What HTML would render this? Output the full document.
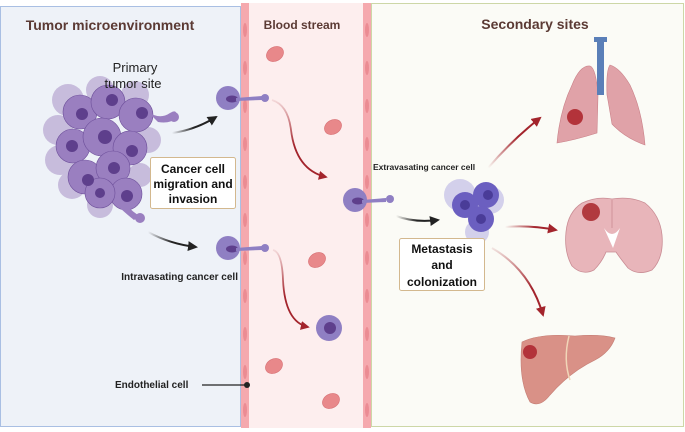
<!DOCTYPE html>
<html><head><meta charset="utf-8"><style>
html,body{margin:0;padding:0;background:#fff;}
svg{display:block;font-family:"Liberation Sans",sans-serif;}
</style></head><body>
<svg width="685" height="432" viewBox="0 0 685 432" xmlns="http://www.w3.org/2000/svg">
<defs>
<marker id="ab" viewBox="0 0 10 10" refX="8" refY="5" markerWidth="5" markerHeight="5" orient="auto"><path d="M0,0L10,5L0,10z" fill="#222"/></marker>
<marker id="ar" viewBox="0 0 10 10" refX="8" refY="5" markerWidth="5" markerHeight="5" orient="auto"><path d="M0,0L10,5L0,10z" fill="#a3242c"/></marker>
<linearGradient id="gb" x1="0" y1="0" x2="1" y2="0"><stop offset="0" stop-color="#222" stop-opacity="0"/><stop offset="0.5" stop-color="#222"/></linearGradient>
<linearGradient id="gr" x1="0" y1="0" x2="0" y2="1"><stop offset="0" stop-color="#a3242c" stop-opacity="0.1"/><stop offset="0.6" stop-color="#a3242c"/></linearGradient>
<linearGradient id="gr2" x1="0" y1="1" x2="1" y2="0"><stop offset="0" stop-color="#a3242c" stop-opacity="0"/><stop offset="0.6" stop-color="#a3242c"/></linearGradient>
<linearGradient id="gr3" x1="0" y1="0" x2="1" y2="0"><stop offset="0" stop-color="#a3242c" stop-opacity="0"/><stop offset="0.6" stop-color="#a3242c"/></linearGradient>
</defs>
<rect x="0.5" y="6.5" width="240" height="420" fill="#eef2f8" stroke="#a9bfe3"/>
<rect x="241" y="3" width="130" height="425" fill="#fdeeee"/>
<rect x="371.5" y="3.5" width="312" height="423" fill="#fbfbf6" stroke="#cdd7a7"/>
<rect x="241" y="3" width="8" height="425" fill="#f5a9ae"/>
<rect x="363" y="3" width="8" height="425" fill="#f5a9ae"/>
<g fill="#e9858d" opacity="0.8">
<ellipse cx="245" cy="30" rx="2" ry="7"/><ellipse cx="245" cy="68" rx="2" ry="7"/><ellipse cx="245" cy="106" rx="2" ry="7"/><ellipse cx="245" cy="144" rx="2" ry="7"/><ellipse cx="245" cy="182" rx="2" ry="7"/><ellipse cx="245" cy="220" rx="2" ry="7"/><ellipse cx="245" cy="258" rx="2" ry="7"/><ellipse cx="245" cy="296" rx="2" ry="7"/><ellipse cx="245" cy="334" rx="2" ry="7"/><ellipse cx="245" cy="372" rx="2" ry="7"/><ellipse cx="245" cy="410" rx="2" ry="7"/>
<ellipse cx="367" cy="30" rx="2" ry="7"/><ellipse cx="367" cy="68" rx="2" ry="7"/><ellipse cx="367" cy="106" rx="2" ry="7"/><ellipse cx="367" cy="144" rx="2" ry="7"/><ellipse cx="367" cy="182" rx="2" ry="7"/><ellipse cx="367" cy="220" rx="2" ry="7"/><ellipse cx="367" cy="258" rx="2" ry="7"/><ellipse cx="367" cy="296" rx="2" ry="7"/><ellipse cx="367" cy="334" rx="2" ry="7"/><ellipse cx="367" cy="372" rx="2" ry="7"/><ellipse cx="367" cy="410" rx="2" ry="7"/>
</g>
<text x="110" y="30" font-size="14" font-weight="bold" fill="#5b3a34" text-anchor="middle">Tumor microenvironment</text>
<text x="302" y="29" font-size="12" font-weight="bold" fill="#5b3a34" text-anchor="middle">Blood stream</text>
<text x="535" y="29" font-size="14" font-weight="bold" fill="#5b3a34" text-anchor="middle">Secondary sites</text>
<g fill="#e8888a" stroke="#d87276" stroke-width="0.6">
<ellipse cx="275" cy="54" rx="9" ry="7" transform="rotate(-30 275 54)"/>
<ellipse cx="333" cy="127" rx="9" ry="7" transform="rotate(-30 333 127)"/>
<ellipse cx="317" cy="260" rx="9" ry="7" transform="rotate(-30 317 260)"/>
<ellipse cx="274" cy="366" rx="9" ry="7" transform="rotate(-30 274 366)"/>
<ellipse cx="331" cy="401" rx="9" ry="7" transform="rotate(-30 331 401)"/>
</g>
<!-- tumor mass -->
<g>
<g fill="#c7bcdc">
<circle cx="68" cy="100" r="16"/><circle cx="58" cy="130" r="15"/><circle cx="60" cy="160" r="15"/><circle cx="72" cy="185" r="14"/><circle cx="100" cy="205" r="13"/><circle cx="135" cy="95" r="14"/><circle cx="148" cy="140" r="13"/><circle cx="100" cy="90" r="14"/><circle cx="140" cy="175" r="12"/>
</g>
<g fill="#9a7fc0" stroke="#6d4f9a" stroke-width="0.6">
<circle cx="80" cy="112" r="17"/><circle cx="108" cy="102" r="17"/><circle cx="136" cy="115" r="17"/><circle cx="73" cy="146" r="17"/><circle cx="102" cy="137" r="19"/><circle cx="130" cy="148" r="17"/><circle cx="85" cy="177" r="17"/><circle cx="113" cy="168" r="17"/><circle cx="126" cy="194" r="16"/><circle cx="100" cy="193" r="15"/>
</g>
<path d="M148 112 Q160 120 170 113 Q178 108 176 118 Q170 124 158 122 Z" fill="#9a7fc0"/>
<circle cx="174" cy="117" r="5" fill="#9a7fc0"/>
<path d="M126 204 Q132 212 140 216 L134 220 Q124 212 118 206Z" fill="#9a7fc0"/>
<circle cx="140" cy="218" r="5" fill="#9a7fc0"/>
<g fill="#5e3f8c">
<circle cx="82" cy="114" r="6"/><circle cx="112" cy="100" r="6"/><circle cx="142" cy="113" r="6"/><circle cx="72" cy="146" r="6"/><circle cx="105" cy="137" r="7"/><circle cx="132" cy="151" r="6"/><circle cx="88" cy="180" r="6"/><circle cx="114" cy="168" r="6"/><circle cx="127" cy="196" r="6"/><circle cx="100" cy="193" r="5"/>
</g>
</g>
<text x="135" y="72" font-size="13" fill="#222" text-anchor="middle">Primary</text>
<text x="133" y="88" font-size="13" fill="#222" text-anchor="middle">tumor site</text>
<g>
<circle cx="228" cy="98" r="12" fill="#8f7fc3"/><ellipse cx="232" cy="99" rx="6" ry="3.5" fill="#5e3f8c"/>
<path d="M236 98 L262 96 L262 100 L236 101Z" fill="#8f7fc3"/><circle cx="265" cy="98" r="4" fill="#8f7fc3"/>
<circle cx="228" cy="248" r="12" fill="#8f7fc3"/><ellipse cx="232" cy="249" rx="6" ry="3.5" fill="#5e3f8c"/>
<path d="M236 248 L262 246 L262 250 L236 251Z" fill="#8f7fc3"/><circle cx="265" cy="248" r="4" fill="#8f7fc3"/>
<circle cx="355" cy="200" r="12" fill="#8f7fc3"/><ellipse cx="358" cy="201" rx="6" ry="3.5" fill="#5e3f8c"/>
<path d="M362 200 L386 198 L386 202 L362 203Z" fill="#8f7fc3"/><circle cx="390" cy="199" r="4" fill="#8f7fc3"/>
<circle cx="329" cy="328" r="13" fill="#8f7fc3"/><circle cx="330" cy="328" r="6" fill="#5e3f8c"/>
</g>
<g>
<circle cx="460" cy="195" r="16" fill="#c9c6e8" opacity="0.8"/><circle cx="490" cy="200" r="14" fill="#c9c6e8" opacity="0.8"/><circle cx="477" cy="232" r="12" fill="#c9c6e8" opacity="0.8"/>
<circle cx="465" cy="205" r="13" fill="#6b5fc0"/><circle cx="486" cy="195" r="13" fill="#6b5fc0"/><circle cx="481" cy="219" r="13" fill="#6b5fc0"/>
<circle cx="465" cy="205" r="5" fill="#4a3c98"/><circle cx="488" cy="195" r="5" fill="#4a3c98"/><circle cx="481" cy="219" r="5" fill="#4a3c98"/>
</g>
<path d="M172 133 Q195 130 216 117" fill="none" stroke="url(#gb)" stroke-width="2" marker-end="url(#ab)"/>
<path d="M148 232 Q170 244 196 247" fill="none" stroke="url(#gb)" stroke-width="2" marker-end="url(#ab)"/>
<path d="M396 216 Q415 223 438 220" fill="none" stroke="url(#gb)" stroke-width="2" marker-end="url(#ab)"/>
<path d="M272 100 Q288 105 291 130 Q296 170 326 177" fill="none" stroke="url(#gr)" stroke-width="1.8" marker-end="url(#ar)"/>
<path d="M273 250 Q282 252 283 280 Q285 322 308 327" fill="none" stroke="url(#gr)" stroke-width="1.8" marker-end="url(#ar)"/>
<path d="M488 168 Q512 140 540 118" fill="none" stroke="url(#gr2)" stroke-width="2" marker-end="url(#ar)"/>
<path d="M505 227 Q530 225 556 230" fill="none" stroke="url(#gr3)" stroke-width="2" marker-end="url(#ar)"/>
<path d="M492 248 Q530 270 543 315" fill="none" stroke="url(#gr)" stroke-width="2" marker-end="url(#ar)"/>
<!-- lungs -->
<g>
<path d="M590 66 Q580 65 572 85 Q560 110 557 143 Q575 140 597 133 L598 95 Q596 68 590 66Z" fill="#e0a2a8" stroke="#c98088" stroke-width="0.6"/>
<path d="M610 65 Q620 68 630 85 Q642 110 645 145 Q625 138 612 124 Q608 100 607 95 Q606 70 610 65Z" fill="#e0a2a8" stroke="#c98088" stroke-width="0.6"/>
<rect x="597" y="40" width="7" height="55" fill="#5a7fb8"/>
<rect x="594" y="37" width="13" height="5" fill="#5a7fb8"/>
<circle cx="575" cy="117" r="8" fill="#b3333a"/>
</g>
<!-- brain -->
<g>
<path d="M582 203 Q597 196 612 199 Q630 196 645 203 Q660 215 662 235 Q664 258 652 270 Q638 276 628 268 Q620 258 616 252 L606 252 Q602 262 594 270 Q582 276 572 266 Q564 252 566 232 Q568 212 582 203Z" fill="#e8b5ba" stroke="#c98c94" stroke-width="0.8"/>
<path d="M612 200 L612 228" stroke="#c98c94" stroke-width="0.8"/>
<path d="M604 228 Q612 240 620 228 L613 248Z" fill="#fff"/>
<circle cx="591" cy="212" r="9" fill="#b13a3f"/>
</g>
<!-- liver -->
<g>
<path d="M522 342 Q540 333 575 336 Q600 334 615 338 Q610 352 595 360 Q570 372 550 395 Q540 408 530 402 Q518 380 522 342Z" fill="#d99187" stroke="#c47d74" stroke-width="0.6"/>
<path d="M569 336 Q563 360 570 380" stroke="#f1d6b8" stroke-width="1.5" fill="none"/>
<circle cx="530" cy="352" r="7" fill="#b3333a"/>
</g>
<rect x="150.5" y="157.5" width="85" height="51" rx="2" fill="#fff" stroke="#d3b88e"/>
<text x="193" y="173" font-size="12" font-weight="bold" fill="#111" text-anchor="middle">Cancer cell</text>
<text x="193" y="188" font-size="12" font-weight="bold" fill="#111" text-anchor="middle">migration and</text>
<text x="193" y="203" font-size="12" font-weight="bold" fill="#111" text-anchor="middle">invasion</text>
<rect x="399.5" y="238.5" width="85" height="52" rx="2" fill="#fff" stroke="#d3b88e"/>
<text x="442" y="253" font-size="12" font-weight="bold" fill="#111" text-anchor="middle">Metastasis</text>
<text x="442" y="269" font-size="12" font-weight="bold" fill="#111" text-anchor="middle">and</text>
<text x="442" y="286" font-size="12" font-weight="bold" fill="#111" text-anchor="middle">colonization</text>
<text x="373" y="170" font-size="8.5" font-weight="bold" fill="#222">Extravasating cancer cell</text>
<text x="238" y="280" font-size="10" font-weight="bold" fill="#222" text-anchor="end">Intravasating cancer cell</text>
<text x="115" y="388" font-size="10" font-weight="bold" fill="#222">Endothelial cell</text>
<line x1="202" y1="385" x2="246" y2="385" stroke="#222" stroke-width="1.2"/>
<circle cx="247" cy="385" r="3" fill="#222"/>
</svg>
</body></html>
